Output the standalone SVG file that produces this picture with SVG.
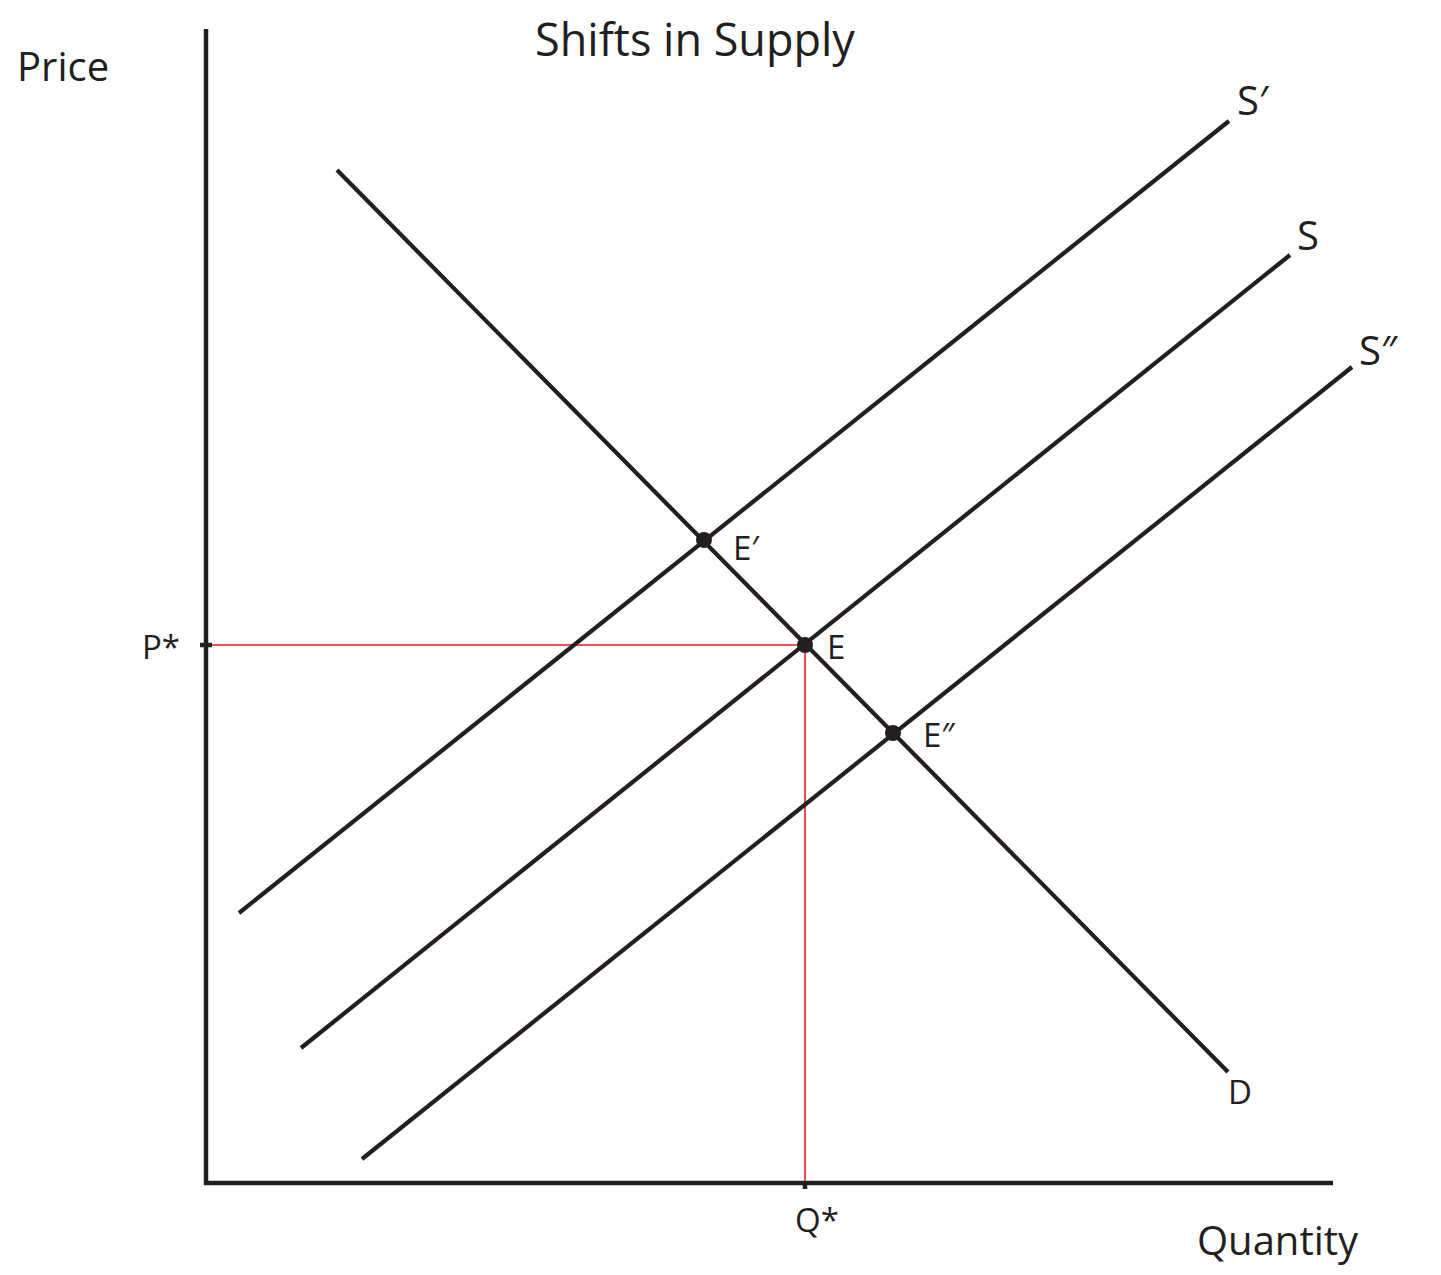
<svg xmlns="http://www.w3.org/2000/svg" width="1441" height="1275" viewBox="0 0 1441 1275">
<style>
.ax{stroke:#231f20;stroke-width:4.5;fill:none}
.cv{stroke:#231f20;stroke-width:4.2;fill:none}
.rd{stroke:#ed1c24;stroke-width:1.6;fill:none}
.dot{fill:#231f20}
text{font-family:"Open Sans","Liberation Sans",sans-serif;fill:#231f20}
.lg{font-size:40px}
.sm{font-size:33px}
</style>
<rect width="1441" height="1275" fill="#fff"/>
<g id="axes">
<line class="ax" x1="206" y1="29" x2="206" y2="1185"/>
<line class="ax" x1="204" y1="1183" x2="1333" y2="1183"/>
<line class="ax" x1="200" y1="645" x2="212" y2="645"/>
<line class="ax" x1="805" y1="1181" x2="805" y2="1189"/>
</g>
<g id="connectors">
<line class="rd" x1="212" y1="645" x2="805" y2="645"/>
<line class="rd" x1="805" y1="645" x2="805" y2="1181"/>
<line id="Sprime" class="cv" x1="239" y1="913" x2="1229" y2="121"/>
<line id="S" class="cv" x1="301" y1="1048" x2="1290" y2="255"/>
<line id="Sdprime" class="cv" x1="362" y1="1159" x2="1352" y2="367"/>
<line id="D" class="cv" x1="337" y1="170" x2="1228" y2="1072"/>
</g>
<g id="node-Eprime"><circle class="dot" cx="704" cy="540" r="8"/><text class="sm" x="733" y="560">E′</text></g>
<g id="node-E"><circle class="dot" cx="805" cy="645" r="8"/><text class="sm" x="827" y="659">E</text></g>
<g id="node-Edprime"><circle class="dot" cx="893" cy="733" r="8"/><text class="sm" x="923" y="747">E″</text></g>
<g id="labels">
<text x="695" y="56" font-size="45" text-anchor="middle">Shifts in Supply</text>
<text class="lg" x="17" y="81">Price</text>
<text class="lg" x="1197" y="1255">Quantity</text>
<text class="lg" x="1237" y="115">S′</text>
<text class="lg" x="1297" y="250">S</text>
<text class="lg" x="1359" y="365">S″</text>
<text class="sm" x="1228" y="1104">D</text>
<text class="sm" x="795" y="1232">Q*</text>
<text class="sm" x="142" y="659">P*</text>
</g>
</svg>
